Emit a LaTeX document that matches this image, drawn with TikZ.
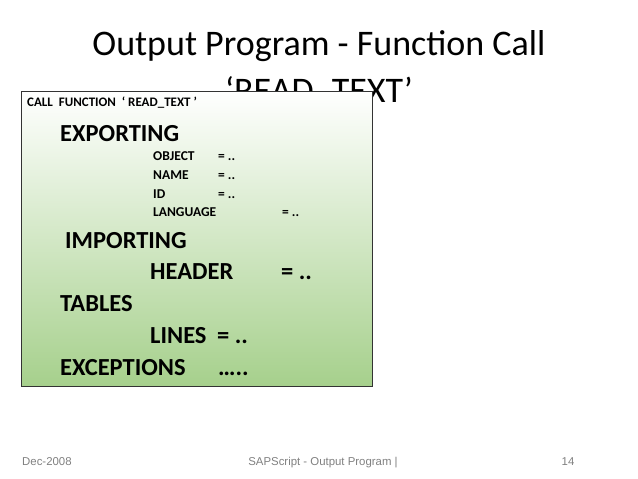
\documentclass[tikz,border=0pt]{standalone}
\usepackage{fontspec}
\setmainfont{Carlito}
\newfontfamily\foot{Liberation Sans}
\begin{document}
\begin{tikzpicture}[x=1pt,y=-1pt,
  t/.style={anchor=base west,inner sep=0pt,font=\bfseries\fontsize{24.5}{26}\selectfont},
  s/.style={anchor=base west,inner sep=0pt,font=\bfseries\fontsize{13.5}{15}\selectfont},
  ft/.style={inner sep=0pt,anchor=base,text=gray,font=\foot\fontsize{11.4}{13}\selectfont}]
\useasboundingbox (0,0) rectangle (638,479);
\node[align=center,font=\fontsize{36}{47}\selectfont,inner sep=0pt] (title) at (319,69) {Output Program - Function Call\\‘READ\_TEXT’};
\shade[top color=white,bottom color={rgb,255:red,166;green,208;blue,140}] (21,91) rectangle (372,386);
\draw[black!80,line width=0.8pt] (21,91) rectangle (372,386);
\node[s,font=\bfseries\fontsize{13}{14}\selectfont] (call) at (27,106) {CALL\ \ FUNCTION\ \ ‘ READ\_TEXT ’};
\node[t] (exp) at (60,141) {EXPORTING};
\node[s] (obj) at (153,160) {OBJECT}; \node[s] (e1) at (218,160) {= ..};
\node[s] (nam) at (153,179) {NAME}; \node[s] (e2) at (218,179) {= ..};
\node[s] (id) at (153,198) {ID}; \node[s] (e3) at (218,198) {= ..};
\node[s] (lan) at (153,216) {LANGUAGE}; \node[s] (e4) at (282,216) {= ..};
\node[t] (imp) at (65,248) {IMPORTING};
\node[t] (hdr) at (150,279) {HEADER}; \node[t] (e5) at (281,279) {= ..};
\node[t] (tab) at (60,311) {TABLES};
\node[t] (lin) at (150,343) {LINES}; \node[t] (e6) at (217,343) {= ..};
\node[t] (exc) at (60,375) {EXCEPTIONS}; \node[t] (e7) at (218,375) {…..};
\node[ft,anchor=base west] (d) at (22,465) {Dec-2008};
\node[ft] (m) at (323,465) {SAPScript - Output Program |};
\node[ft] (n) at (568,465) {14};
\end{tikzpicture}
\end{document}
